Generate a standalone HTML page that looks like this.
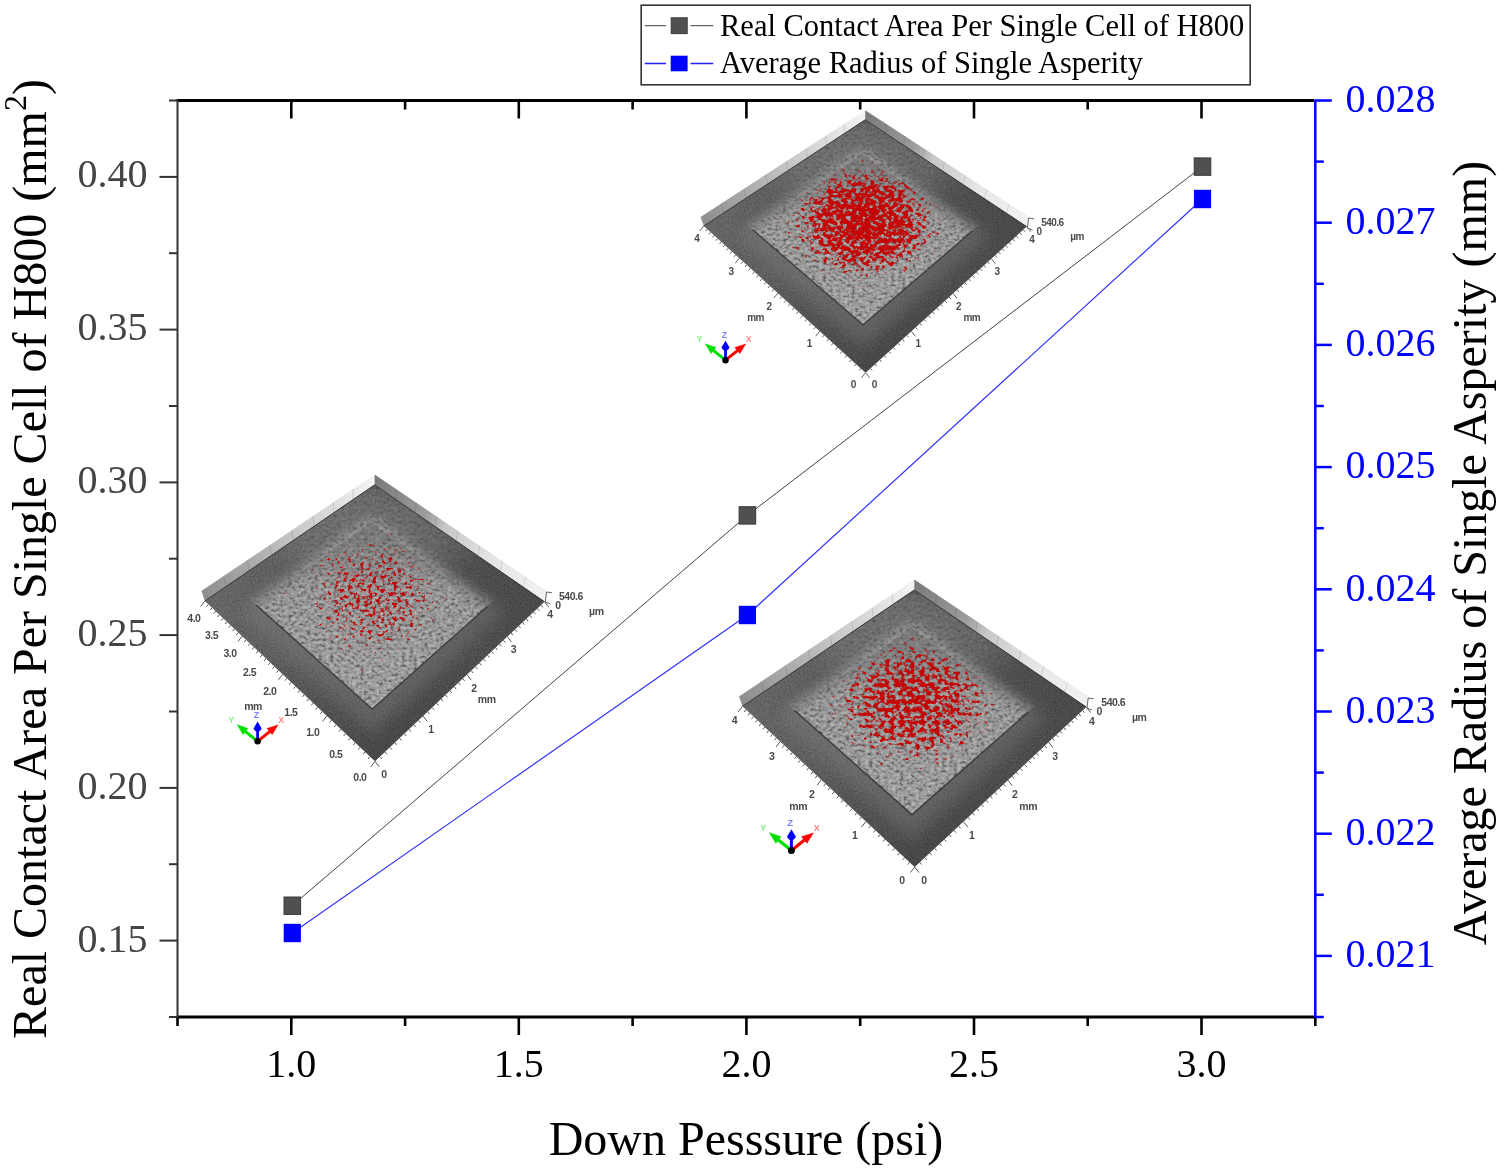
<!DOCTYPE html>
<html><head><meta charset="utf-8"><title>Chart</title>
<style>
html,body{margin:0;padding:0;background:#fff;}
svg{display:block;}
text{font-family:"Liberation Serif","Times New Roman",serif;}
.tl{font-size:40px;}
.tt{font-size:48px;fill:#000;}
.lg{font-size:30.5px;fill:#000;}
.il{font-family:"Liberation Sans","DejaVu Sans",sans-serif;font-size:11px;}
.ib{font-weight:bold;letter-spacing:-0.5px;}
</style></head>
<body>
<svg width="1500" height="1169" viewBox="0 0 1500 1169">
<line x1="176.5" y1="100.5" x2="1314.1" y2="100.5" stroke="#000" stroke-width="3"/>
<line x1="176.5" y1="1017.0" x2="1314.1" y2="1017.0" stroke="#000" stroke-width="3"/>
<line x1="177.5" y1="1017.0" x2="177.5" y2="1026.0" stroke="#000" stroke-width="2.6"/>
<line x1="291.3" y1="1017.0" x2="291.3" y2="1035.0" stroke="#000" stroke-width="2.6"/>
<line x1="291.3" y1="100.5" x2="291.3" y2="118.5" stroke="#000" stroke-width="2.6"/>
<line x1="405.1" y1="1017.0" x2="405.1" y2="1026.0" stroke="#000" stroke-width="2.6"/>
<line x1="405.1" y1="100.5" x2="405.1" y2="109.5" stroke="#000" stroke-width="2.6"/>
<line x1="518.8" y1="1017.0" x2="518.8" y2="1035.0" stroke="#000" stroke-width="2.6"/>
<line x1="518.8" y1="100.5" x2="518.8" y2="118.5" stroke="#000" stroke-width="2.6"/>
<line x1="632.6" y1="1017.0" x2="632.6" y2="1026.0" stroke="#000" stroke-width="2.6"/>
<line x1="632.6" y1="100.5" x2="632.6" y2="109.5" stroke="#000" stroke-width="2.6"/>
<line x1="746.4" y1="1017.0" x2="746.4" y2="1035.0" stroke="#000" stroke-width="2.6"/>
<line x1="746.4" y1="100.5" x2="746.4" y2="118.5" stroke="#000" stroke-width="2.6"/>
<line x1="860.2" y1="1017.0" x2="860.2" y2="1026.0" stroke="#000" stroke-width="2.6"/>
<line x1="860.2" y1="100.5" x2="860.2" y2="109.5" stroke="#000" stroke-width="2.6"/>
<line x1="974.0" y1="1017.0" x2="974.0" y2="1035.0" stroke="#000" stroke-width="2.6"/>
<line x1="974.0" y1="100.5" x2="974.0" y2="118.5" stroke="#000" stroke-width="2.6"/>
<line x1="1087.7" y1="1017.0" x2="1087.7" y2="1026.0" stroke="#000" stroke-width="2.6"/>
<line x1="1087.7" y1="100.5" x2="1087.7" y2="109.5" stroke="#000" stroke-width="2.6"/>
<line x1="1201.5" y1="1017.0" x2="1201.5" y2="1035.0" stroke="#000" stroke-width="2.6"/>
<line x1="1201.5" y1="100.5" x2="1201.5" y2="118.5" stroke="#000" stroke-width="2.6"/>
<line x1="1315.3" y1="1017.0" x2="1315.3" y2="1026.0" stroke="#000" stroke-width="2.6"/>
<line x1="177.5" y1="99.5" x2="177.5" y2="1018.0" stroke="#333" stroke-width="2"/>
<line x1="169.0" y1="1017.0" x2="177.5" y2="1017.0" stroke="#333" stroke-width="2"/>
<line x1="159.5" y1="940.6" x2="177.5" y2="940.6" stroke="#333" stroke-width="2"/>
<line x1="169.0" y1="864.2" x2="177.5" y2="864.2" stroke="#333" stroke-width="2"/>
<line x1="159.5" y1="787.9" x2="177.5" y2="787.9" stroke="#333" stroke-width="2"/>
<line x1="169.0" y1="711.5" x2="177.5" y2="711.5" stroke="#333" stroke-width="2"/>
<line x1="159.5" y1="635.1" x2="177.5" y2="635.1" stroke="#333" stroke-width="2"/>
<line x1="169.0" y1="558.7" x2="177.5" y2="558.7" stroke="#333" stroke-width="2"/>
<line x1="159.5" y1="482.4" x2="177.5" y2="482.4" stroke="#333" stroke-width="2"/>
<line x1="169.0" y1="406.0" x2="177.5" y2="406.0" stroke="#333" stroke-width="2"/>
<line x1="159.5" y1="329.6" x2="177.5" y2="329.6" stroke="#333" stroke-width="2"/>
<line x1="169.0" y1="253.2" x2="177.5" y2="253.2" stroke="#333" stroke-width="2"/>
<line x1="159.5" y1="176.9" x2="177.5" y2="176.9" stroke="#333" stroke-width="2"/>
<line x1="169.0" y1="100.5" x2="177.5" y2="100.5" stroke="#333" stroke-width="2"/>
<line x1="1315.3" y1="99.5" x2="1315.3" y2="1018.0" stroke="#00f" stroke-width="2.5"/>
<line x1="1315.3" y1="1017.0" x2="1323.8" y2="1017.0" stroke="#00f" stroke-width="2.5"/>
<line x1="1315.3" y1="955.9" x2="1331.8" y2="955.9" stroke="#00f" stroke-width="2.5"/>
<line x1="1315.3" y1="894.8" x2="1323.8" y2="894.8" stroke="#00f" stroke-width="2.5"/>
<line x1="1315.3" y1="833.7" x2="1331.8" y2="833.7" stroke="#00f" stroke-width="2.5"/>
<line x1="1315.3" y1="772.6" x2="1323.8" y2="772.6" stroke="#00f" stroke-width="2.5"/>
<line x1="1315.3" y1="711.5" x2="1331.8" y2="711.5" stroke="#00f" stroke-width="2.5"/>
<line x1="1315.3" y1="650.4" x2="1323.8" y2="650.4" stroke="#00f" stroke-width="2.5"/>
<line x1="1315.3" y1="589.3" x2="1331.8" y2="589.3" stroke="#00f" stroke-width="2.5"/>
<line x1="1315.3" y1="528.2" x2="1323.8" y2="528.2" stroke="#00f" stroke-width="2.5"/>
<line x1="1315.3" y1="467.1" x2="1331.8" y2="467.1" stroke="#00f" stroke-width="2.5"/>
<line x1="1315.3" y1="406.0" x2="1323.8" y2="406.0" stroke="#00f" stroke-width="2.5"/>
<line x1="1315.3" y1="344.9" x2="1331.8" y2="344.9" stroke="#00f" stroke-width="2.5"/>
<line x1="1315.3" y1="283.8" x2="1323.8" y2="283.8" stroke="#00f" stroke-width="2.5"/>
<line x1="1315.3" y1="222.7" x2="1331.8" y2="222.7" stroke="#00f" stroke-width="2.5"/>
<line x1="1315.3" y1="161.6" x2="1323.8" y2="161.6" stroke="#00f" stroke-width="2.5"/>
<line x1="1315.3" y1="100.5" x2="1331.8" y2="100.5" stroke="#00f" stroke-width="2.5"/>
<text x="147.5" y="952.1" text-anchor="end" class="tl" fill="#444">0.15</text>
<text x="147.5" y="799.1" text-anchor="end" class="tl" fill="#444">0.20</text>
<text x="147.5" y="646.0" text-anchor="end" class="tl" fill="#444">0.25</text>
<text x="147.5" y="493.0" text-anchor="end" class="tl" fill="#444">0.30</text>
<text x="147.5" y="339.9" text-anchor="end" class="tl" fill="#444">0.35</text>
<text x="147.5" y="186.9" text-anchor="end" class="tl" fill="#444">0.40</text>
<text x="1345.5" y="967.1" class="tl" fill="#00f">0.021</text>
<text x="1345.5" y="844.9" class="tl" fill="#00f">0.022</text>
<text x="1345.5" y="722.7" class="tl" fill="#00f">0.023</text>
<text x="1345.5" y="600.5" class="tl" fill="#00f">0.024</text>
<text x="1345.5" y="478.3" class="tl" fill="#00f">0.025</text>
<text x="1345.5" y="356.1" class="tl" fill="#00f">0.026</text>
<text x="1345.5" y="233.9" class="tl" fill="#00f">0.027</text>
<text x="1345.5" y="111.7" class="tl" fill="#00f">0.028</text>
<text x="291.3" y="1077" text-anchor="middle" class="tl" fill="#000">1.0</text>
<text x="518.8" y="1077" text-anchor="middle" class="tl" fill="#000">1.5</text>
<text x="746.4" y="1077" text-anchor="middle" class="tl" fill="#000">2.0</text>
<text x="974.0" y="1077" text-anchor="middle" class="tl" fill="#000">2.5</text>
<text x="1201.5" y="1077" text-anchor="middle" class="tl" fill="#000">3.0</text>
<text x="746" y="1154.5" text-anchor="middle" class="tt">Down Pesssure (psi)</text>
<text transform="translate(45.9,559) rotate(-90)" text-anchor="middle" class="tt">Real Contact Area Per Single Cell of H800 (mm<tspan dy="-20" font-size="32">2</tspan><tspan dy="20">)</tspan></text>
<text transform="translate(1485.8,553) rotate(-90)" text-anchor="middle" class="tt">Average Radius of Single Asperity (mm)</text>
<polyline points="292.3,905.6 747.4,515.3 1202.5,166.5" fill="none" stroke="#444" stroke-width="1"/>
<polyline points="292.3,933.0 747.4,615.0 1202.5,199.0" fill="none" stroke="#33f" stroke-width="1.2"/>
<defs><clipPath id="cpFloor"><polygon points="914.7,867.0 742.5,706.3 914.3,590.0 1086.2,707.0"/></clipPath>
<clipPath id="cpInner"><polygon points="911.9,814.6 794.3,710.2 911.1,627.4 1028.6,711.6"/></clipPath>
<linearGradient id="gWL" gradientUnits="userSpaceOnUse" x1="742" y1="700" x2="914" y2="585"><stop offset="0" stop-color="#8e8e8e"/><stop offset=".55" stop-color="#c8c8c8"/><stop offset="1" stop-color="#f4f4f4"/></linearGradient>
<linearGradient id="gWR" gradientUnits="userSpaceOnUse" x1="914" y1="585" x2="1086" y2="700"><stop offset="0" stop-color="#7a7a7a"/><stop offset=".3" stop-color="#9c9c9c"/><stop offset=".42" stop-color="#c8c8c8"/><stop offset=".7" stop-color="#e6e6e6"/><stop offset="1" stop-color="#f2f2f2"/></linearGradient>
<linearGradient id="gFloor" gradientUnits="userSpaceOnUse" x1="760" y1="700" x2="1070" y2="720"><stop offset="0" stop-color="#fff" stop-opacity=".05"/><stop offset=".45" stop-color="#000" stop-opacity=".02"/><stop offset=".75" stop-color="#000" stop-opacity=".14"/><stop offset="1" stop-color="#000" stop-opacity=".2"/></linearGradient>
<linearGradient id="gFloorF" gradientUnits="userSpaceOnUse" x1="914" y1="760" x2="914" y2="867"><stop offset="0" stop-color="#000" stop-opacity="0"/><stop offset="1" stop-color="#000" stop-opacity=".2"/></linearGradient>
<radialGradient id="gHalo" gradientUnits="userSpaceOnUse" cx="914" cy="690" r="150" gradientTransform="translate(914 690) scale(1 0.75) translate(-914 -690)"><stop offset="0" stop-color="#888" stop-opacity=".6"/><stop offset=".7" stop-color="#777" stop-opacity=".35"/><stop offset="1" stop-color="#666" stop-opacity="0"/></radialGradient>
<linearGradient id="gInnerShade" gradientUnits="userSpaceOnUse" x1="914" y1="630" x2="914" y2="815"><stop offset="0" stop-color="#555" stop-opacity=".55"/><stop offset=".35" stop-color="#555" stop-opacity=".1"/><stop offset="1" stop-color="#555" stop-opacity="0"/></linearGradient>
<filter id="fFloor" filterUnits="userSpaceOnUse" x="735" y="585" width="360" height="285" color-interpolation-filters="sRGB"><feTurbulence type="fractalNoise" baseFrequency="0.55" numOctaves="2" seed="4"/><feColorMatrix type="matrix" values="1 0 0 0 0  1 0 0 0 0  1 0 0 0 0  0 0 0 0 1"/><feComponentTransfer><feFuncR type="table" tableValues=".22 .26 .3 .33 .35 .365 .38 .4 .43 .47 .52"/><feFuncG type="table" tableValues=".22 .26 .3 .33 .35 .365 .38 .4 .43 .47 .52"/><feFuncB type="table" tableValues=".22 .26 .3 .33 .35 .365 .38 .4 .43 .47 .52"/></feComponentTransfer><feGaussianBlur stdDeviation=".5"/></filter>
<filter id="fInner" filterUnits="userSpaceOnUse" x="780" y="595" width="265" height="225" color-interpolation-filters="sRGB"><feTurbulence type="fractalNoise" baseFrequency="0.26 0.34" numOctaves="2" seed="11"/><feColorMatrix type="matrix" values="1 0 0 0 0  1 0 0 0 0  1 0 0 0 0  0 0 0 0 1"/><feComponentTransfer><feFuncR type="table" tableValues="0.26 0.3 0.36 0.46 0.56 0.62 0.66 0.7 0.74 0.78 0.82"/><feFuncG type="table" tableValues="0.26 0.3 0.36 0.46 0.56 0.62 0.66 0.7 0.74 0.78 0.82"/><feFuncB type="table" tableValues="0.26 0.3 0.36 0.46 0.56 0.62 0.66 0.7 0.74 0.78 0.82"/></feComponentTransfer><feGaussianBlur stdDeviation=".45"/></filter>
<filter id="fRed1" filterUnits="userSpaceOnUse" x="780" y="615" width="265" height="205" color-interpolation-filters="sRGB"><feTurbulence type="fractalNoise" baseFrequency="0.2 0.240" numOctaves="2" seed="21" result="n"/><feColorMatrix in="n" type="matrix" values="0 0 0 0 0  0 0 0 0 0  0 0 0 0 0  1 0 0 0 0" result="na"/><feComposite in="na" in2="SourceAlpha" operator="arithmetic" k1="0" k2="1" k3="0.55" k4="-0.83" result="s"/><feComponentTransfer in="s" result="m"><feFuncA type="linear" slope="7" intercept="0"/></feComponentTransfer><feGaussianBlur in="m" stdDeviation=".45" result="mb"/><feFlood flood-color="#c40606"/><feComposite operator="in" in2="mb"/></filter>
<filter id="fRed2" filterUnits="userSpaceOnUse" x="780" y="615" width="265" height="205" color-interpolation-filters="sRGB"><feTurbulence type="fractalNoise" baseFrequency="0.24 0.288" numOctaves="2" seed="22" result="n"/><feColorMatrix in="n" type="matrix" values="0 0 0 0 0  0 0 0 0 0  0 0 0 0 0  1 0 0 0 0" result="na"/><feComposite in="na" in2="SourceAlpha" operator="arithmetic" k1="0" k2="1" k3="0.31" k4="-0.79" result="s"/><feComponentTransfer in="s" result="m"><feFuncA type="linear" slope="7" intercept="0"/></feComponentTransfer><feGaussianBlur in="m" stdDeviation=".45" result="mb"/><feFlood flood-color="#c40606"/><feComposite operator="in" in2="mb"/></filter>
<filter id="fRed3" filterUnits="userSpaceOnUse" x="780" y="615" width="265" height="205" color-interpolation-filters="sRGB"><feTurbulence type="fractalNoise" baseFrequency="0.2 0.240" numOctaves="2" seed="23" result="n"/><feColorMatrix in="n" type="matrix" values="0 0 0 0 0  0 0 0 0 0  0 0 0 0 0  1 0 0 0 0" result="na"/><feComposite in="na" in2="SourceAlpha" operator="arithmetic" k1="0" k2="1" k3="0.45" k4="-0.82" result="s"/><feComponentTransfer in="s" result="m"><feFuncA type="linear" slope="7" intercept="0"/></feComponentTransfer><feGaussianBlur in="m" stdDeviation=".45" result="mb"/><feFlood flood-color="#c40606"/><feComposite operator="in" in2="mb"/></filter>
<radialGradient id="gDen1" gradientUnits="userSpaceOnUse" cx="914" cy="702" r="96" gradientTransform="translate(914 702) scale(1 0.812) translate(-914 -702)"><stop offset="0" stop-opacity="1"/><stop offset=".5" stop-opacity=".8"/><stop offset="1" stop-opacity="0"/></radialGradient>
<radialGradient id="gDen2" gradientUnits="userSpaceOnUse" cx="914" cy="702" r="80" gradientTransform="translate(914 702) scale(1 0.875) translate(-914 -702)"><stop offset="0" stop-opacity="1"/><stop offset=".5" stop-opacity=".8"/><stop offset="1" stop-opacity="0"/></radialGradient>
<radialGradient id="gDen3" gradientUnits="userSpaceOnUse" cx="914" cy="702" r="96" gradientTransform="translate(914 702) scale(1 0.792) translate(-914 -702)"><stop offset="0" stop-opacity="1"/><stop offset=".5" stop-opacity=".8"/><stop offset="1" stop-opacity="0"/></radialGradient>
<clipPath id="cpInnerExt"><polygon points="911.9,814.6 771.6,690.1 914.3,593.0 1054.5,688.8"/></clipPath>
<filter id="fBlur6" filterUnits="userSpaceOnUse" x="700" y="560" width="420" height="330"><feGaussianBlur stdDeviation="7"/></filter>
<radialGradient id="gBack" gradientUnits="userSpaceOnUse" cx="914" cy="640" r="120" gradientTransform="translate(914 640) scale(1 0.5) translate(-914 -640)"><stop offset="0" stop-color="#fff"/><stop offset=".6" stop-color="#fff" stop-opacity=".6"/><stop offset="1" stop-color="#fff" stop-opacity="0"/></radialGradient>
<mask id="mBack" maskUnits="userSpaceOnUse" x="700" y="560" width="420" height="330"><rect x="700" y="560" width="420" height="330" fill="url(#gBack)"/></mask>
<mask id="mInner" maskUnits="userSpaceOnUse" x="700" y="560" width="420" height="330"><polygon points="911.9,857.6 770.1,726.1 911.1,626.2 1052.8,727.7" fill="#fff" filter="url(#fBlur6)"/></mask><g id="surf"><polygon points="742.5,706.3 739.0,696.4 914.3,579.5 914.3,590.0" fill="url(#gWL)"/>
<polygon points="914.3,590.0 914.3,579.5 1089.6,697.1 1086.2,707.0" fill="url(#gWR)"/>
<path d="M764.2 691.6l-3.1 -10.0M1064.5 692.2l3.1 -10.0M787.7 675.7l-2.6 -10.1M1041.1 676.2l2.6 -10.1M810.3 660.4l-2.2 -10.1M1018.5 660.9l2.2 -10.1M832.0 645.7l-1.8 -10.2M996.7 646.0l1.8 -10.2M853.0 631.5l-1.3 -10.3M975.7 631.8l1.3 -10.3M873.2 617.8l-0.9 -10.3M955.4 618.0l0.9 -10.3M892.7 604.6l-0.4 -10.4M935.9 604.7l0.4 -10.4" stroke="#000" stroke-opacity=".13" stroke-width=".9" fill="none"/>
<g clip-path="url(#cpFloor)"><rect x="735" y="585" width="360" height="285" filter="url(#fFloor)"/></g>
<polygon points="914.7,867.0 742.5,706.3 914.3,590.0 1086.2,707.0" fill="url(#gFloor)"/>
<polygon points="914.7,867.0 742.5,706.3 914.3,590.0 1086.2,707.0" fill="url(#gFloorF)"/>
<g clip-path="url(#cpFloor)"><polygon points="911.9,839.2 776.1,715.7 911.1,620.7 1046.8,717.2" fill="#a0a0a0" opacity=".22" filter="url(#fBlur6)"/></g>
<g clip-path="url(#cpFloor)"><g mask="url(#mBack)"><rect x="780" y="585" width="265" height="235" filter="url(#fInner)" opacity=".4"/></g></g>
<g clip-path="url(#cpInnerExt)"><g mask="url(#mInner)"><rect x="780" y="595" width="265" height="225" filter="url(#fInner)"/><polygon points="911.9,814.6 794.3,710.2 911.1,627.4 1028.6,711.6" fill="url(#gInnerShade)"/></g></g>
<polyline points="794.3,710.2 911.9,814.6 1028.6,711.6" fill="none" stroke="#2a2a2a" stroke-width="1.6" stroke-opacity=".7"/>
<polyline points="742.5,706.3 914.3,590.0 1086.2,707.0" fill="none" stroke="#333" stroke-width="1"/>
<path d="M914.7 867.0l-4.3 5.5M914.7 867.0l4.3 5.5M909.6 862.3l-1.9 2.3M919.8 862.3l1.9 2.3M904.6 857.6l-1.9 2.3M924.8 857.6l1.9 2.3M899.6 852.9l-1.9 2.3M929.8 852.9l1.9 2.3M894.6 848.3l-1.9 2.3M934.7 848.3l1.9 2.3M889.7 843.7l-1.9 2.3M939.6 843.8l1.9 2.3M884.9 839.2l-1.9 2.3M944.4 839.3l1.9 2.3M880.1 834.7l-1.9 2.3M949.2 834.8l1.9 2.3M875.3 830.2l-1.9 2.3M954.0 830.4l1.9 2.3M870.6 825.8l-1.9 2.3M958.7 826.0l1.9 2.3M865.9 821.5l-4.3 5.5M963.4 821.6l4.3 5.5M861.3 817.1l-1.9 2.3M968.0 817.3l1.9 2.3M856.7 812.8l-1.9 2.3M972.6 813.0l1.9 2.3M852.1 808.6l-1.9 2.3M977.1 808.8l1.9 2.3M847.6 804.4l-1.9 2.3M981.6 804.6l1.9 2.3M843.1 800.2l-1.9 2.3M986.1 800.4l1.9 2.3M838.6 796.0l-1.9 2.3M990.5 796.3l1.9 2.3M834.2 791.9l-1.9 2.3M994.9 792.2l1.9 2.3M829.9 787.8l-1.9 2.3M999.2 788.1l1.9 2.3M825.5 783.8l-1.9 2.3M1003.5 784.1l1.9 2.3M821.3 779.8l-4.3 5.5M1007.8 780.1l4.3 5.5M817.0 775.8l-1.9 2.3M1012.1 776.2l1.9 2.3M812.8 771.9l-1.9 2.3M1016.3 772.2l1.9 2.3M808.6 768.0l-1.9 2.3M1020.4 768.4l1.9 2.3M804.4 764.1l-1.9 2.3M1024.6 764.5l1.9 2.3M800.3 760.3l-1.9 2.3M1028.7 760.7l1.9 2.3M796.3 756.5l-1.9 2.3M1032.7 756.9l1.9 2.3M792.2 752.7l-1.9 2.3M1036.7 753.1l1.9 2.3M788.2 748.9l-1.9 2.3M1040.7 749.4l1.9 2.3M784.2 745.2l-1.9 2.3M1044.7 745.7l1.9 2.3M780.3 741.5l-4.3 5.5M1048.6 742.1l4.3 5.5M776.4 737.9l-1.9 2.3M1052.5 738.4l1.9 2.3M772.5 734.3l-1.9 2.3M1056.4 734.8l1.9 2.3M768.6 730.7l-1.9 2.3M1060.2 731.2l1.9 2.3M764.8 727.1l-1.9 2.3M1064.0 727.7l1.9 2.3M761.0 723.6l-1.9 2.3M1067.8 724.2l1.9 2.3M757.2 720.1l-1.9 2.3M1071.5 720.7l1.9 2.3M753.5 716.6l-1.9 2.3M1075.2 717.2l1.9 2.3M749.8 713.1l-1.9 2.3M1078.9 713.8l1.9 2.3M746.1 709.7l-1.9 2.3M1082.6 710.4l1.9 2.3M742.5 706.3l-4.3 5.5M1086.2 707.0l4.3 5.5" stroke="#555" stroke-width="1" fill="none"/></g></defs>
<g transform="translate(374.6 484.9) scale(0.988 0.998) translate(-914.3 -590)"><use href="#surf"/><g clip-path="url(#cpInner)"><rect x="780" y="615" width="265" height="205" fill="url(#gDen2)" filter="url(#fRed2)"/></g></g>
<text x="193.9" y="622.1" text-anchor="middle" class="il ib" style="font-size:10.5px" fill="#4a4a4a">4.0</text><text x="211.5" y="638.5" text-anchor="middle" class="il ib" style="font-size:10.5px" fill="#4a4a4a">3.5</text><text x="230.1" y="657.3" text-anchor="middle" class="il ib" style="font-size:10.5px" fill="#4a4a4a">3.0</text><text x="249.6" y="676.0" text-anchor="middle" class="il ib" style="font-size:10.5px" fill="#4a4a4a">2.5</text><text x="269.7" y="694.6" text-anchor="middle" class="il ib" style="font-size:10.5px" fill="#4a4a4a">2.0</text><text x="290.9" y="715.5" text-anchor="middle" class="il ib" style="font-size:10.5px" fill="#4a4a4a">1.5</text><text x="312.7" y="736.2" text-anchor="middle" class="il ib" style="font-size:10.5px" fill="#4a4a4a">1.0</text><text x="335.8" y="758.3" text-anchor="middle" class="il ib" style="font-size:10.5px" fill="#4a4a4a">0.5</text><text x="359.9" y="781.4" text-anchor="middle" class="il ib" style="font-size:10.5px" fill="#4a4a4a">0.0</text><text x="253.1" y="710.4" text-anchor="middle" class="il ib" style="font-size:10.5px" fill="#4a4a4a">mm</text><text x="383.9" y="777.5" text-anchor="middle" class="il ib" style="font-size:10.5px" fill="#4a4a4a">0</text><text x="430.8" y="732.7" text-anchor="middle" class="il ib" style="font-size:10.5px" fill="#4a4a4a">1</text><text x="473.8" y="691.8" text-anchor="middle" class="il ib" style="font-size:10.5px" fill="#4a4a4a">2</text><text x="486.7" y="703.2" text-anchor="middle" class="il ib" style="font-size:10.5px" fill="#4a4a4a">mm</text><text x="513.4" y="653.0" text-anchor="middle" class="il ib" style="font-size:10.5px" fill="#4a4a4a">3</text><text x="550.0" y="618.3" text-anchor="middle" class="il ib" style="font-size:10.5px" fill="#4a4a4a">4</text><text x="558.0" y="608.5" text-anchor="middle" class="il ib" style="font-size:10.5px" fill="#4a4a4a">0</text><text x="570.9" y="599.7" text-anchor="middle" class="il ib" style="font-size:10.5px" fill="#4a4a4a">540.6</text><text x="596.3" y="614.7" text-anchor="middle" class="il ib" style="font-size:10.5px" fill="#4a4a4a">µm</text>
<path d="M545.3 602.0l1.2 -10.0l5.5 0.8M545.3 602.0l5.0 2.0" stroke="#555" stroke-width="0.9" fill="none"/>
<g transform="translate(257.6 741.3) scale(0.93)"><path d="M0 0L-13 -10.5" stroke="#00e000" stroke-width="3.2"/><path d="M-21.9 -17.7L-10.4 -13.8L-15.6 -7.2z" fill="#00e000" stroke="#00e000" stroke-width=".6" stroke-linejoin="round"/><path d="M0 0L13 -10.5" stroke="#f00" stroke-width="3.2"/><path d="M21.9 -17.5L10.2 -13.8L15.6 -7.2z" fill="#f00" stroke="#f00" stroke-width=".6" stroke-linejoin="round"/><path d="M0 0L0 -12" stroke="#0000f0" stroke-width="3"/><path d="M0 -21.2L4.4 -13.8Q3 -10.5 0 -10.2Q-3 -10.5 -4.4 -13.8z" fill="#0000f0"/><circle cx="0" cy="0" r="3.5" fill="#000"/><text x="-1.2" y="-24.6" text-anchor="middle" style="font-size:9.5px;font-weight:bold" class="il" fill="#8080ff">Z</text><text x="-28.2" y="-19.6" text-anchor="middle" style="font-size:9px;font-weight:bold" class="il" fill="#80ee80">Y</text><text x="25.4" y="-19.3" text-anchor="middle" style="font-size:9px;font-weight:bold" class="il" fill="#ff8080">X</text></g>
<g><use href="#surf"/><g clip-path="url(#cpInner)"><rect x="780" y="615" width="265" height="205" fill="url(#gDen3)" filter="url(#fRed3)"/></g></g>
<text x="734.3" y="724.3" text-anchor="middle" class="il ib" style="font-size:10.5px" fill="#4a4a4a">4</text><text x="771.6" y="759.6" text-anchor="middle" class="il ib" style="font-size:10.5px" fill="#4a4a4a">3</text><text x="811.7" y="797.5" text-anchor="middle" class="il ib" style="font-size:10.5px" fill="#4a4a4a">2</text><text x="798.2" y="809.8" text-anchor="middle" class="il ib" style="font-size:10.5px" fill="#4a4a4a">mm</text><text x="854.7" y="839.0" text-anchor="middle" class="il ib" style="font-size:10.5px" fill="#4a4a4a">1</text><text x="902.0" y="883.5" text-anchor="middle" class="il ib" style="font-size:10.5px" fill="#4a4a4a">0</text><text x="923.9" y="883.5" text-anchor="middle" class="il ib" style="font-size:10.5px" fill="#4a4a4a">0</text><text x="971.7" y="839.0" text-anchor="middle" class="il ib" style="font-size:10.5px" fill="#4a4a4a">1</text><text x="1014.7" y="797.5" text-anchor="middle" class="il ib" style="font-size:10.5px" fill="#4a4a4a">2</text><text x="1028.2" y="809.8" text-anchor="middle" class="il ib" style="font-size:10.5px" fill="#4a4a4a">mm</text><text x="1054.8" y="759.6" text-anchor="middle" class="il ib" style="font-size:10.5px" fill="#4a4a4a">3</text><text x="1091.7" y="724.8" text-anchor="middle" class="il ib" style="font-size:10.5px" fill="#4a4a4a">4</text><text x="1099.2" y="714.7" text-anchor="middle" class="il ib" style="font-size:10.5px" fill="#4a4a4a">0</text><text x="1113.2" y="705.9" text-anchor="middle" class="il ib" style="font-size:10.5px" fill="#4a4a4a">540.6</text><text x="1139.2" y="720.8" text-anchor="middle" class="il ib" style="font-size:10.5px" fill="#4a4a4a">µm</text>
<path d="M1087.0 708.0l1.2 -10.0l5.5 0.8M1087.0 708.0l5.0 2.0" stroke="#555" stroke-width="0.9" fill="none"/>
<g transform="translate(791.4 850.5) scale(1.0)"><path d="M0 0L-13 -10.5" stroke="#00e000" stroke-width="3.2"/><path d="M-21.9 -17.7L-10.4 -13.8L-15.6 -7.2z" fill="#00e000" stroke="#00e000" stroke-width=".6" stroke-linejoin="round"/><path d="M0 0L13 -10.5" stroke="#f00" stroke-width="3.2"/><path d="M21.9 -17.5L10.2 -13.8L15.6 -7.2z" fill="#f00" stroke="#f00" stroke-width=".6" stroke-linejoin="round"/><path d="M0 0L0 -12" stroke="#0000f0" stroke-width="3"/><path d="M0 -21.2L4.4 -13.8Q3 -10.5 0 -10.2Q-3 -10.5 -4.4 -13.8z" fill="#0000f0"/><circle cx="0" cy="0" r="3.5" fill="#000"/><text x="-1.2" y="-24.6" text-anchor="middle" style="font-size:9.5px;font-weight:bold" class="il" fill="#8080ff">Z</text><text x="-28.2" y="-19.6" text-anchor="middle" style="font-size:9px;font-weight:bold" class="il" fill="#80ee80">Y</text><text x="25.4" y="-19.3" text-anchor="middle" style="font-size:9px;font-weight:bold" class="il" fill="#ff8080">X</text></g>
<g transform="translate(865.2 119.8) scale(0.9395 0.913) translate(-914.3 -590)"><use href="#surf"/><g clip-path="url(#cpInner)"><rect x="780" y="615" width="265" height="205" fill="url(#gDen1)" filter="url(#fRed1)"/></g></g>
<text x="696.8" y="242.2" text-anchor="middle" class="il ib" style="font-size:10.0px" fill="#4a4a4a">4</text><text x="731.0" y="275.0" text-anchor="middle" class="il ib" style="font-size:10.0px" fill="#4a4a4a">3</text><text x="769.0" y="310.3" text-anchor="middle" class="il ib" style="font-size:10.0px" fill="#4a4a4a">2</text><text x="755.6" y="320.6" text-anchor="middle" class="il ib" style="font-size:10.0px" fill="#4a4a4a">mm</text><text x="809.4" y="347.2" text-anchor="middle" class="il ib" style="font-size:10.0px" fill="#4a4a4a">1</text><text x="853.4" y="387.8" text-anchor="middle" class="il ib" style="font-size:10.0px" fill="#4a4a4a">0</text><text x="874.2" y="387.8" text-anchor="middle" class="il ib" style="font-size:10.0px" fill="#4a4a4a">0</text><text x="918.0" y="347.2" text-anchor="middle" class="il ib" style="font-size:10.0px" fill="#4a4a4a">1</text><text x="958.6" y="310.3" text-anchor="middle" class="il ib" style="font-size:10.0px" fill="#4a4a4a">2</text><text x="971.8" y="320.6" text-anchor="middle" class="il ib" style="font-size:10.0px" fill="#4a4a4a">mm</text><text x="997.0" y="275.0" text-anchor="middle" class="il ib" style="font-size:10.0px" fill="#4a4a4a">3</text><text x="1031.8" y="243.1" text-anchor="middle" class="il ib" style="font-size:10.0px" fill="#4a4a4a">4</text><text x="1039.0" y="234.8" text-anchor="middle" class="il ib" style="font-size:10.0px" fill="#4a4a4a">0</text><text x="1052.4" y="226.1" text-anchor="middle" class="il ib" style="font-size:10.0px" fill="#4a4a4a">540.6</text><text x="1077.0" y="240.1" text-anchor="middle" class="il ib" style="font-size:10.0px" fill="#4a4a4a">µm</text>
<path d="M1027.4 228.0l1.2 -10.0l5.5 0.8M1027.4 228.0l5.0 2.0" stroke="#555" stroke-width="0.9" fill="none"/>
<g transform="translate(725.5 360.2) scale(0.92)"><path d="M0 0L-13 -10.5" stroke="#00e000" stroke-width="3.2"/><path d="M-21.9 -17.7L-10.4 -13.8L-15.6 -7.2z" fill="#00e000" stroke="#00e000" stroke-width=".6" stroke-linejoin="round"/><path d="M0 0L13 -10.5" stroke="#f00" stroke-width="3.2"/><path d="M21.9 -17.5L10.2 -13.8L15.6 -7.2z" fill="#f00" stroke="#f00" stroke-width=".6" stroke-linejoin="round"/><path d="M0 0L0 -12" stroke="#0000f0" stroke-width="3"/><path d="M0 -21.2L4.4 -13.8Q3 -10.5 0 -10.2Q-3 -10.5 -4.4 -13.8z" fill="#0000f0"/><circle cx="0" cy="0" r="3.5" fill="#000"/><text x="-1.2" y="-24.6" text-anchor="middle" style="font-size:9.5px;font-weight:bold" class="il" fill="#8080ff">Z</text><text x="-28.2" y="-19.6" text-anchor="middle" style="font-size:9px;font-weight:bold" class="il" fill="#80ee80">Y</text><text x="25.4" y="-19.3" text-anchor="middle" style="font-size:9px;font-weight:bold" class="il" fill="#ff8080">X</text></g>
<rect x="284.0" y="897.0" width="16.6" height="17.4" fill="#505050" stroke="#3a3a3a" stroke-width="1"/>
<rect x="739.1" y="506.7" width="16.6" height="17.4" fill="#505050" stroke="#3a3a3a" stroke-width="1"/>
<rect x="1194.2" y="157.9" width="16.6" height="17.4" fill="#505050" stroke="#3a3a3a" stroke-width="1"/>
<rect x="283.7" y="923.8" width="17.2" height="18.4" fill="#00f"/>
<rect x="738.8" y="605.8" width="17.2" height="18.4" fill="#00f"/>
<rect x="1193.9" y="189.8" width="17.2" height="18.4" fill="#00f"/>
<rect x="641.2" y="5.2" width="609" height="79.6" fill="#fff" stroke="#333" stroke-width="1.6"/>
<path d="M644.7 25.7H666M690.5 25.7H713.3" stroke="#666" stroke-width="1.3"/>
<rect x="671.2" y="17.8" width="16" height="15.8" fill="#505050" stroke="#3a3a3a" stroke-width="1"/>
<path d="M644.7 63.5H666M690.5 63.5H713.3" stroke="#22f" stroke-width="1.3"/>
<rect x="670.7" y="55.7" width="16.9" height="15.6" fill="#00f"/>
<text x="720" y="35.7" class="lg">Real Contact Area Per Single Cell of H800</text>
<text x="720" y="72.7" class="lg">Average Radius of Single Asperity</text>
</svg>
</body></html>
